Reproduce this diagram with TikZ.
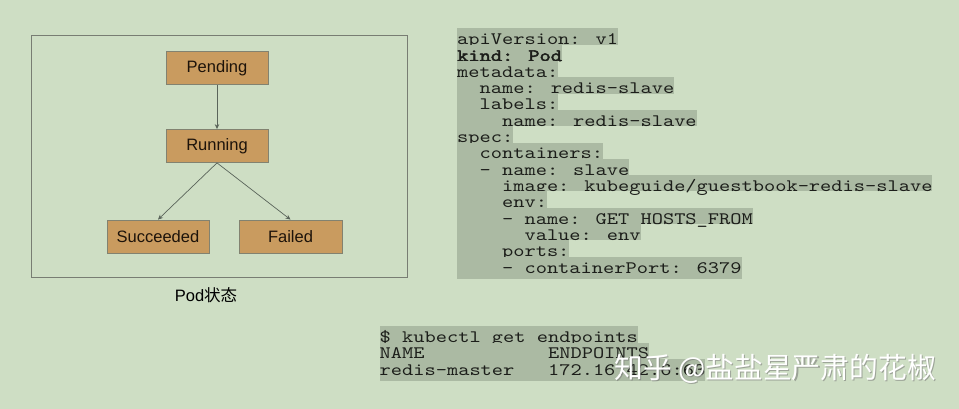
\documentclass[tikz,border=0pt]{standalone}
\usepackage{fontspec}
\setmainfont{Liberation Sans}
\newfontfamily\cjk{Noto Sans CJK SC}
\newfontfamily\codefont{lmmono10-regular.otf}[FakeStretch=1.222,BoldFont=lmmono10-regular.otf,BoldFeatures={FakeBold=2.5}]
\usetikzlibrary{arrows.meta}
\definecolor{bg}{RGB}{206,222,196}
\definecolor{hl}{RGB}{171,186,163}
\definecolor{boxfill}{RGB}{201,155,95}
\definecolor{boxline}{RGB}{130,130,112}
\definecolor{frameline}{RGB}{120,125,115}
\definecolor{arrowline}{RGB}{90,100,90}
\definecolor{codetext}{RGB}{28,30,26}
\newcommand\ind[1]{\hphantom{#1}}
\tikzset{
  statebox/.style={draw=boxline, line width=0.8pt, fill=boxfill, minimum width=102pt,
    minimum height=33pt, inner sep=0pt, font=\fontsize{16.5}{18}\selectfont, text=black!85!brown},
  flow/.style={draw=arrowline, line width=0.7pt, -{Stealth[length=5pt,width=4.5pt]}},
  codeline/.style={fill=hl, anchor=north west, inner sep=0pt, text height=16.3pt,
    text depth=0pt, font=\codefont\fontsize{17.5}{17.5}\selectfont, text=codetext},
  lastline/.style={codeline, text depth=5.7pt},
  wmark/.style={anchor=west, inner sep=0pt, font=\cjk\fontsize{28.8}{30}\selectfont}
}
\begin{document}
\begin{tikzpicture}[x=1pt,y=-1pt]
\useasboundingbox (0,0) rectangle (959,409);
\fill[bg] (0,0) rectangle (959,409);
% state diagram
\draw[frameline, line width=0.8pt] (31,35) rectangle (407,277);
\node[statebox] (pending) at (217,68) {Pending};
\node[statebox] (running) at (217,146) {Running};
\node[statebox] (succ) at (158,236.5) {Succeeded};
\node[statebox, minimum width=103pt] (failed) at (290.5,236.5) {Failed};
\draw[flow] (pending.south) -- (running.north);
\draw[flow] (running.south) -- (succ.north);
\draw[flow] (running.south) -- (failed.north);
\node[font=\fontsize{16.5}{18}\selectfont, text=black] (cap) at (206,295) {Pod{\cjk 状态}};
% yaml
\node[codeline] (r1) at (457,28.3) {apiVersion: v1};
\node[codeline] (r2) at (457,44.6) {\bfseries kind: Pod};
\node[codeline] (r3) at (457,60.9) {metadata:};
\node[codeline] (r4) at (457,77.2) {\ind{00}name: redis-slave};
\node[codeline] (r5) at (457,93.5) {\ind{00}labels:};
\node[codeline] (r6) at (457,109.8) {\ind{0000}name: redis-slave};
\node[codeline] (r7) at (457,126.1) {spec:};
\node[codeline] (r8) at (457,142.4) {\ind{00}containers:};
\node[codeline] (r9) at (457,158.7) {\ind{00}- name: slave};
\node[codeline] (r10) at (457,175.0) {\ind{0000}image: kubeguide/guestbook-redis-slave};
\node[codeline] (r11) at (457,191.3) {\ind{0000}env:};
\node[codeline] (r12) at (457,207.6) {\ind{0000}- name: GET HOSTS\_FROM};
\node[codeline] (r13) at (457,223.9) {\ind{000000}value: env};
\node[codeline] (r14) at (457,240.2) {\ind{0000}ports:};
\node[lastline] (r15) at (457,256.5) {\ind{0000}- containerPort: 6379};
% kubectl output
\node[codeline] (k1) at (379.5,326) {\$ kubectl get endpoints};
\node[codeline] (k2) at (379.5,342.3) {NAME\ind{00000000000}ENDPOINTS};
\node[lastline] (k3) at (379.5,358.6) {redis-master\ind{000}172.16.42.6:63};
% watermark
\node[wmark, text=black!55, opacity=0.55] (wms) at (615.2,370.2) {知乎 @盐盐星严肃的花椒};
\node[wmark, text=white] (wm) at (614,369) {知乎 @盐盐星严肃的花椒};
\end{tikzpicture}
\end{document}
